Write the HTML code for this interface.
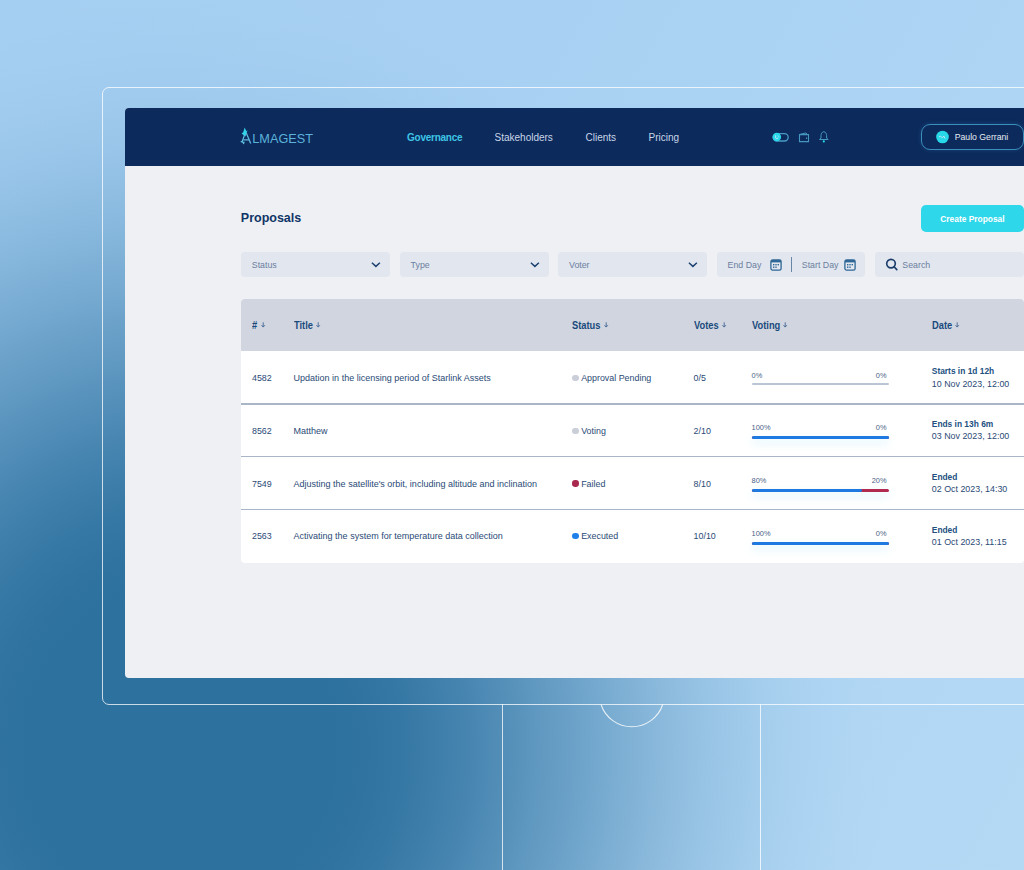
<!DOCTYPE html>
<html><head><meta charset="utf-8">
<style>
*{margin:0;padding:0;box-sizing:border-box}
html,body{width:1024px;height:870px;overflow:hidden}
body{position:relative;font-family:"Liberation Sans",sans-serif;background:#a6d0f2}
#bg{position:absolute;left:0;top:0;width:1024px;height:870px;
 background:
  radial-gradient(ellipse 725px 775px at 180px 750px, rgba(45,113,159,1) 0%, rgba(45,113,159,1) 20%, rgba(45,113,159,0.984) 25.0%, rgba(45,113,159,0.940) 30.0%, rgba(45,113,159,0.874) 35.0%, rgba(45,113,159,0.792) 40.0%, rgba(45,113,159,0.698) 45.0%, rgba(45,113,159,0.598) 50.0%, rgba(45,113,159,0.497) 55.0%, rgba(45,113,159,0.398) 60.0%, rgba(45,113,159,0.305) 65.0%, rgba(45,113,159,0.221) 70.0%, rgba(45,113,159,0.148) 75.0%, rgba(45,113,159,0.090) 80.0%, rgba(45,113,159,0.046) 85.0%, rgba(45,113,159,0.018) 90.0%, rgba(45,113,159,0.003) 95.0%, rgba(45,113,159,0.000) 100.0%),
  linear-gradient(120deg,#a5cff2 0%,#a7d0f2 35%,#b4d9f5 100%);}
.line{position:absolute;background:rgba(255,255,255,0.75)}
#frame{position:absolute;left:102px;top:87px;width:940px;height:618px;border:1px solid rgba(255,255,255,0.75);border-radius:7px}
#screen{position:absolute;left:125px;top:108px;width:920px;height:570px;background:#eff0f4;border-radius:4px;overflow:hidden}
#nav{position:absolute;left:0;top:0;width:100%;height:58px;background:#0c2a5c}
.t{position:absolute;white-space:nowrap;line-height:1}
.abs{position:absolute}
.box{position:absolute;background:#e2e6ee;border-radius:4px}
</style></head><body>
<div id="bg"></div>
<div id="frame"></div>
<div class="line" style="left:502px;top:704px;width:1px;height:166px"></div>
<div class="line" style="left:760px;top:704px;width:1px;height:166px"></div>
<svg class="abs" style="left:590px;top:700px" width="80" height="32" viewBox="590 700 80 32"><path d="M601 704.5 A32.5 32.5 0 0 0 662.7 704.5" fill="none" stroke="rgba(255,255,255,0.8)" stroke-width="1.1"/></svg>
<div id="screen"><div id="nav"></div></div>
<div class="t" style="left:252.30px;top:133.15px;font-size:12.7px;color:#5cb2da;font-weight:normal;">LMAGEST</div>
<svg class="abs" style="left:238px;top:124px" width="16" height="22" viewBox="238 124 16 22">
<path d="M245.2 130.5 L250.7 143.4 M243.4 139.8 L249 139.8" fill="none" stroke="#5fb2d9" stroke-width="1.35"/>
<path d="M244.7 127.6 L246.3 131.2 L247.8 130.2 L246.2 133 L245.6 136.5 L243.2 134.8 L241.6 133.6 L243.2 132.2 Z" fill="#33d3ea"/>
<path d="M244.5 135 L242.3 141.2 L241.2 141.6 L242.9 142.2 L243.6 143.6 L244.1 141.6" fill="none" stroke="#5fc0e0" stroke-width="1.2" stroke-linejoin="round"/>
</svg><div class="t" style="left:407.00px;top:132.53px;font-size:10px;color:#3ec5e6;font-weight:bold;letter-spacing:-0.25px">Governance</div>
<div class="t" style="left:494.50px;top:132.53px;font-size:10px;color:#c9d6e8;font-weight:normal;">Stakeholders</div>
<div class="t" style="left:585.50px;top:132.53px;font-size:10px;color:#c9d6e8;font-weight:normal;">Clients</div>
<div class="t" style="left:648.50px;top:132.53px;font-size:10px;color:#c9d6e8;font-weight:normal;">Pricing</div>
<svg class="abs" style="left:768px;top:128px" width="66" height="20" viewBox="0 0 66 20">
<rect x="5.2" y="5.6" width="15" height="7.4" rx="3.7" fill="none" stroke="#4a9bc3" stroke-width="1.3"/>
<circle cx="8.8" cy="9" r="4.3" fill="#27d9ea"/>
<path d="M7.6 7.3 v2.2 a1.2 1.2 0 0 0 2.4 0 M10 7.6 l0.8 1" fill="none" stroke="#dfe3f5" stroke-width="0.8"/>
<path d="M31.5 6.6 h9 v7 h-9 z" fill="none" stroke="#4597c0" stroke-width="1.1"/>
<path d="M31.7 6.4 l6.3 -1.5 l1.3 1.5" fill="none" stroke="#4597c0" stroke-width="1"/>
<rect x="38" y="9.4" width="1.1" height="1.6" fill="#4597c0"/>
<path d="M55.8 3.6 C53.8 4.2 53 5.8 53 7.7 V10.2 L51.4 11.5 H60.2 L58.6 10.2 V7.7 C58.6 5.8 57.8 4.2 55.8 3.6 Z" fill="none" stroke="#4597c0" stroke-width="1" stroke-linejoin="round"/>
<circle cx="55.8" cy="13.4" r="1.1" fill="#27d9ea"/>
</svg>
<div class="abs" style="left:921px;top:124px;width:103px;height:26px;border:1.3px solid #3a8fbd;border-radius:9px;box-shadow:0 0 5px rgba(70,150,200,0.22)"></div>
<svg class="abs" style="left:935px;top:130px" width="15" height="15" viewBox="0 0 15 15"><circle cx="7.5" cy="7" r="6.3" fill="#27d8e8"/>
<path d="M4 7 q1.2 -1.8 2.4 0 q1.2 1.8 2.4 -1 l1.2 2.5 M10.2 5.5 v0.1" fill="none" stroke="#e3e0f5" stroke-width="0.8"/></svg>
<div class="t" style="left:954.70px;top:132.54px;font-size:8.7px;color:#e6ebf3;font-weight:normal;">Paulo Gerrani</div>
<div class="t" style="left:240.80px;top:211.72px;font-size:12.5px;color:#0f3566;font-weight:bold;">Proposals</div>
<div class="abs" style="left:921px;top:205px;width:103px;height:27.4px;background:#2fd7ea;border-radius:5px"></div>
<div class="t" style="left:940.30px;top:214.89px;font-size:8.4px;color:#ffffff;font-weight:bold;">Create Proposal</div>
<div class="box" style="left:241px;top:251.5px;width:148.6px;height:25.5px"></div>
<div class="box" style="left:400px;top:251.5px;width:148.6px;height:25.5px"></div>
<div class="box" style="left:558.4px;top:251.5px;width:148.2px;height:25.5px"></div>
<div class="box" style="left:717px;top:251.5px;width:148.0px;height:25.5px"></div>
<div class="box" style="left:875.3px;top:251.5px;width:148.7px;height:25.5px"></div>
<div class="t" style="left:251.80px;top:261.15px;font-size:8.8px;color:#6b80a0;font-weight:normal;">Status</div>
<div class="t" style="left:410.60px;top:261.15px;font-size:8.8px;color:#6b80a0;font-weight:normal;">Type</div>
<div class="t" style="left:569.00px;top:261.15px;font-size:8.8px;color:#6b80a0;font-weight:normal;">Voter</div>
<svg class="abs" style="left:369.8px;top:260px" width="12" height="9" viewBox="0 0 12 9"><path d="M1.9 2.8 L5.9 6.4 L9.9 2.8" fill="none" stroke="#1c4272" stroke-width="1.45"/></svg>
<svg class="abs" style="left:528.8px;top:260px" width="12" height="9" viewBox="0 0 12 9"><path d="M1.9 2.8 L5.9 6.4 L9.9 2.8" fill="none" stroke="#1c4272" stroke-width="1.45"/></svg>
<svg class="abs" style="left:687.2px;top:260px" width="12" height="9" viewBox="0 0 12 9"><path d="M1.9 2.8 L5.9 6.4 L9.9 2.8" fill="none" stroke="#1c4272" stroke-width="1.45"/></svg>
<div class="t" style="left:727.60px;top:261.15px;font-size:8.8px;color:#6b80a0;font-weight:normal;">End Day</div>
<div class="t" style="left:801.80px;top:261.15px;font-size:8.8px;color:#6b80a0;font-weight:normal;">Start Day</div>
<div class="abs" style="left:791.2px;top:256.7px;width:1.2px;height:15px;background:#6a86a6"></div>
<svg class="abs" style="left:769.5px;top:258.5px" width="12" height="12" viewBox="0 0 12 12"><rect x="0.9" y="0.9" width="10.2" height="10.2" rx="1.6" fill="none" stroke="#2f6797" stroke-width="1.3"/><rect x="1" y="1" width="10" height="2.4" fill="#2f6797"/>
<g fill="#2f6797"><rect x="3" y="5" width="1.4" height="1.4"/><rect x="5.3" y="5" width="1.4" height="1.4"/><rect x="7.6" y="5" width="1.4" height="1.4"/><rect x="3" y="7.5" width="1.4" height="1.4"/><rect x="5.3" y="7.5" width="1.4" height="1.4"/></g></svg>
<svg class="abs" style="left:843.7px;top:258.5px" width="12" height="12" viewBox="0 0 12 12"><rect x="0.9" y="0.9" width="10.2" height="10.2" rx="1.6" fill="none" stroke="#2f6797" stroke-width="1.3"/><rect x="1" y="1" width="10" height="2.4" fill="#2f6797"/>
<g fill="#2f6797"><rect x="3" y="5" width="1.4" height="1.4"/><rect x="5.3" y="5" width="1.4" height="1.4"/><rect x="7.6" y="5" width="1.4" height="1.4"/><rect x="3" y="7.5" width="1.4" height="1.4"/><rect x="5.3" y="7.5" width="1.4" height="1.4"/></g></svg>
<svg class="abs" style="left:884px;top:257px" width="15" height="15" viewBox="0 0 15 15"><circle cx="7" cy="6.6" r="4.3" fill="none" stroke="#1a3d6c" stroke-width="1.65"/><path d="M10.1 9.8 L12.8 12.6" stroke="#1a3d6c" stroke-width="1.65" stroke-linecap="round"/></svg>
<div class="t" style="left:902.30px;top:261.15px;font-size:8.8px;color:#6b80a0;font-weight:normal;">Search</div>
<div class="abs" style="left:241px;top:299px;width:783px;height:264px;background:#ffffff;border-radius:4px;overflow:hidden"><div class="abs" style="left:0;top:0;width:800px;height:52px;background:#d0d5e0"></div><div class="abs" style="left:0;top:104.10px;width:800px;height:1.5px;background:#a9b6c8"></div><div class="abs" style="left:0;top:156.80px;width:800px;height:1.5px;background:#a9b6c8"></div><div class="abs" style="left:0;top:209.60px;width:800px;height:1.5px;background:#a9b6c8"></div></div>
<svg class="abs" style="left:260.6px;top:321.6px" width="5" height="6" viewBox="0 0 5 6"><path d="M2.2 0.3 V5 M0.5 3.2 L2.2 5.1 L3.9 3.2" fill="none" stroke="#4a6a98" stroke-width="0.95"/></svg>
<svg class="abs" style="left:316.2px;top:321.6px" width="5" height="6" viewBox="0 0 5 6"><path d="M2.2 0.3 V5 M0.5 3.2 L2.2 5.1 L3.9 3.2" fill="none" stroke="#4a6a98" stroke-width="0.95"/></svg>
<svg class="abs" style="left:604.1px;top:321.6px" width="5" height="6" viewBox="0 0 5 6"><path d="M2.2 0.3 V5 M0.5 3.2 L2.2 5.1 L3.9 3.2" fill="none" stroke="#4a6a98" stroke-width="0.95"/></svg>
<svg class="abs" style="left:722.4px;top:321.6px" width="5" height="6" viewBox="0 0 5 6"><path d="M2.2 0.3 V5 M0.5 3.2 L2.2 5.1 L3.9 3.2" fill="none" stroke="#4a6a98" stroke-width="0.95"/></svg>
<svg class="abs" style="left:783.4px;top:321.6px" width="5" height="6" viewBox="0 0 5 6"><path d="M2.2 0.3 V5 M0.5 3.2 L2.2 5.1 L3.9 3.2" fill="none" stroke="#4a6a98" stroke-width="0.95"/></svg>
<svg class="abs" style="left:954.9px;top:321.6px" width="5" height="6" viewBox="0 0 5 6"><path d="M2.2 0.3 V5 M0.5 3.2 L2.2 5.1 L3.9 3.2" fill="none" stroke="#4a6a98" stroke-width="0.95"/></svg>
<div class="t" style="left:252.00px;top:320.87px;font-size:10.2px;color:#1a4a7c;font-weight:bold;transform:scaleX(0.915);transform-origin:0 0">#</div>
<div class="t" style="left:294.20px;top:320.87px;font-size:10.2px;color:#1a4a7c;font-weight:bold;transform:scaleX(0.915);transform-origin:0 0">Title</div>
<div class="t" style="left:572.40px;top:320.87px;font-size:10.2px;color:#1a4a7c;font-weight:bold;transform:scaleX(0.915);transform-origin:0 0">Status</div>
<div class="t" style="left:693.60px;top:320.87px;font-size:10.2px;color:#1a4a7c;font-weight:bold;transform:scaleX(0.915);transform-origin:0 0">Votes</div>
<div class="t" style="left:751.50px;top:320.87px;font-size:10.2px;color:#1a4a7c;font-weight:bold;transform:scaleX(0.915);transform-origin:0 0">Voting</div>
<div class="t" style="left:931.50px;top:320.87px;font-size:10.2px;color:#1a4a7c;font-weight:bold;transform:scaleX(0.915);transform-origin:0 0">Date</div>
<div class="t" style="left:252.00px;top:374.17px;font-size:8.9px;color:#2a4a75;font-weight:normal;">4582</div>
<div class="t" style="left:293.60px;top:374.08px;font-size:9.0px;color:#2a4a75;font-weight:normal;">Updation in the licensing period of Starlink Assets</div>
<div class="abs" style="left:572.3px;top:374.80px;width:6.3px;height:6.3px;border-radius:50%;background:#c9ced8"></div>
<div class="t" style="left:581.20px;top:374.17px;font-size:8.9px;color:#2a4a75;font-weight:normal;">Approval Pending</div>
<div class="t" style="left:693.60px;top:374.17px;font-size:8.9px;color:#2a4a75;font-weight:normal;">0/5</div>
<div class="t" style="left:751.60px;top:371.74px;font-size:7.4px;color:#4a5f85;font-weight:normal;">0%</div>
<div class="t" style="left:886.50px;top:371.74px;font-size:7.4px;color:#4a5f85;font-weight:normal;transform:translateX(-100%)">0%</div>
<div class="abs" style="left:751.6px;top:382.70px;width:137px;height:2.7px;border-radius:2px;background:#bac5d5"></div>
<div class="t" style="left:931.80px;top:367.29px;font-size:8.4px;color:#22507f;font-weight:bold;">Starts in 1d 12h</div>
<div class="t" style="left:931.80px;top:379.67px;font-size:8.9px;color:#2a4a75;font-weight:normal;">10 Nov 2023, 12:00</div>
<div class="t" style="left:252.00px;top:426.92px;font-size:8.9px;color:#2a4a75;font-weight:normal;">8562</div>
<div class="t" style="left:293.60px;top:426.83px;font-size:9.0px;color:#2a4a75;font-weight:normal;">Matthew</div>
<div class="abs" style="left:572.3px;top:427.55px;width:6.3px;height:6.3px;border-radius:50%;background:#c9ced8"></div>
<div class="t" style="left:581.20px;top:426.92px;font-size:8.9px;color:#2a4a75;font-weight:normal;">Voting</div>
<div class="t" style="left:693.60px;top:426.92px;font-size:8.9px;color:#2a4a75;font-weight:normal;">2/10</div>
<div class="t" style="left:751.60px;top:424.49px;font-size:7.4px;color:#4a5f85;font-weight:normal;">100%</div>
<div class="t" style="left:886.50px;top:424.49px;font-size:7.4px;color:#4a5f85;font-weight:normal;transform:translateX(-100%)">0%</div>
<div class="abs" style="left:751.6px;top:435.80px;width:137px;height:3px;border-radius:2px;background:#b32a4f;box-shadow:0 4px 8px rgba(90,205,245,0.28)"></div>
<div class="abs" style="left:751.6px;top:435.80px;width:137.0px;height:3px;border-radius:2px;background:#1e7ae0"></div>
<div class="t" style="left:931.80px;top:420.04px;font-size:8.4px;color:#22507f;font-weight:bold;">Ends in 13h 6m</div>
<div class="t" style="left:931.80px;top:432.42px;font-size:8.9px;color:#2a4a75;font-weight:normal;">03 Nov 2023, 12:00</div>
<div class="t" style="left:252.00px;top:479.67px;font-size:8.9px;color:#2a4a75;font-weight:normal;">7549</div>
<div class="t" style="left:293.60px;top:479.58px;font-size:9.0px;color:#2a4a75;font-weight:normal;">Adjusting the satellite's orbit, including altitude and inclination</div>
<div class="abs" style="left:572.3px;top:480.30px;width:6.3px;height:6.3px;border-radius:50%;background:#a8294d"></div>
<div class="t" style="left:581.20px;top:479.67px;font-size:8.9px;color:#2a4a75;font-weight:normal;">Failed</div>
<div class="t" style="left:693.60px;top:479.67px;font-size:8.9px;color:#2a4a75;font-weight:normal;">8/10</div>
<div class="t" style="left:751.60px;top:477.24px;font-size:7.4px;color:#4a5f85;font-weight:normal;">80%</div>
<div class="t" style="left:886.50px;top:477.24px;font-size:7.4px;color:#4a5f85;font-weight:normal;transform:translateX(-100%)">20%</div>
<div class="abs" style="left:751.6px;top:488.90px;width:137px;height:3px;border-radius:2px;background:#b32a4f;box-shadow:0 4px 8px rgba(90,205,245,0.28)"></div>
<div class="abs" style="left:751.6px;top:488.90px;width:110.6px;height:3px;border-radius:2px;background:#1e7ae0"></div>
<div class="t" style="left:931.80px;top:472.79px;font-size:8.4px;color:#22507f;font-weight:bold;">Ended</div>
<div class="t" style="left:931.80px;top:485.17px;font-size:8.9px;color:#2a4a75;font-weight:normal;">02 Oct 2023, 14:30</div>
<div class="t" style="left:252.00px;top:532.42px;font-size:8.9px;color:#2a4a75;font-weight:normal;">2563</div>
<div class="t" style="left:293.60px;top:532.33px;font-size:9.0px;color:#2a4a75;font-weight:normal;">Activating the system for temperature data collection</div>
<div class="abs" style="left:572.3px;top:533.05px;width:6.3px;height:6.3px;border-radius:50%;background:#1e80e8"></div>
<div class="t" style="left:581.20px;top:532.42px;font-size:8.9px;color:#2a4a75;font-weight:normal;">Executed</div>
<div class="t" style="left:693.60px;top:532.42px;font-size:8.9px;color:#2a4a75;font-weight:normal;">10/10</div>
<div class="t" style="left:751.60px;top:529.99px;font-size:7.4px;color:#4a5f85;font-weight:normal;">100%</div>
<div class="t" style="left:886.50px;top:529.99px;font-size:7.4px;color:#4a5f85;font-weight:normal;transform:translateX(-100%)">0%</div>
<div class="abs" style="left:751.6px;top:542.00px;width:137px;height:3px;border-radius:2px;background:#b32a4f;box-shadow:0 4px 8px rgba(90,205,245,0.28)"></div>
<div class="abs" style="left:751.6px;top:542.00px;width:137.0px;height:3px;border-radius:2px;background:#1e7ae0"></div>
<div class="t" style="left:931.80px;top:525.54px;font-size:8.4px;color:#22507f;font-weight:bold;">Ended</div>
<div class="t" style="left:931.80px;top:537.92px;font-size:8.9px;color:#2a4a75;font-weight:normal;">01 Oct 2023, 11:15</div>
</body></html>
